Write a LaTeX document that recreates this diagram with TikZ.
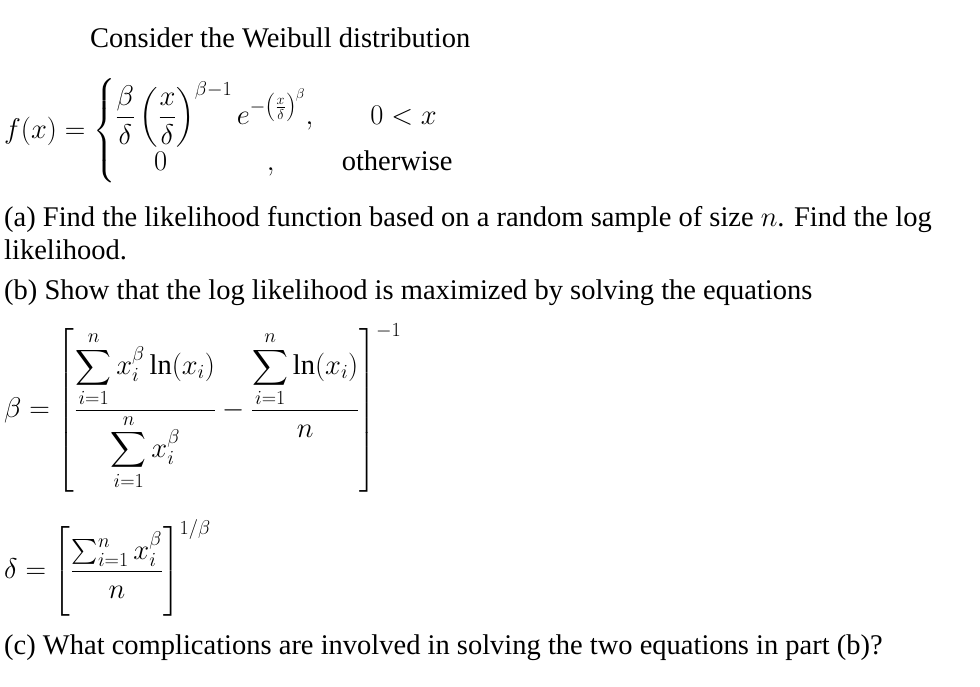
\RequirePackage{fix-cm}
\documentclass[tikz,border=0pt]{standalone}
\usepackage{amsmath}
\usepackage{fontspec}
\setmainfont{Liberation Serif}
\begin{document}
\begin{tikzpicture}[x=1pt,y=-1pt,txt/.style={anchor=west,inner sep=0pt,font=\fontsize{28.5}{33}\selectfont}]
\useasboundingbox (0,0) rectangle (980,686);
\node[txt] (l1) at (90,38) {Consider the Weibull distribution};
\node[txt] (fx) at (4,131) {$f(x) = \left\{\begin{array}{@{}c@{\quad}l@{}}
 \dfrac{\beta}{\delta}\left(\dfrac{x}{\delta}\right)^{\beta-1} e^{-\left(\frac{x}{\delta}\right)^{\beta}}, & \quad 0<x \\[10pt]
 0 \hspace{3.5em}, & \text{otherwise}\end{array}\right.$};
\node[txt] (a1) at (4,220) {(a) Find the likelihood function based on a random sample of size $n$. Find the log};
\node[txt] (a2) at (4,250) {likelihood.};
\node[txt] (b1) at (4,293) {(b) Show that the log likelihood is maximized by solving the equations};
\node[txt] (beq) at (4,408) {$\beta = \left[\dfrac{\displaystyle\sum_{i=1}^{n} x_i^{\beta}\ln(x_i)}{\displaystyle\sum_{i=1}^{n} x_i^{\beta}} - \dfrac{\displaystyle\sum_{i=1}^{n}\ln(x_i)}{n}\right]^{-1}$};
\node[txt] (deq) at (4,568) {$\delta = \Biggl[\dfrac{\sum_{i=1}^{n} x_i^{\beta}}{n}\Biggr]^{1/\beta}$};
\node[txt] (c1) at (4,648) {(c) What complications are involved in solving the two equations in part (b)?};
\end{tikzpicture}
\end{document}
